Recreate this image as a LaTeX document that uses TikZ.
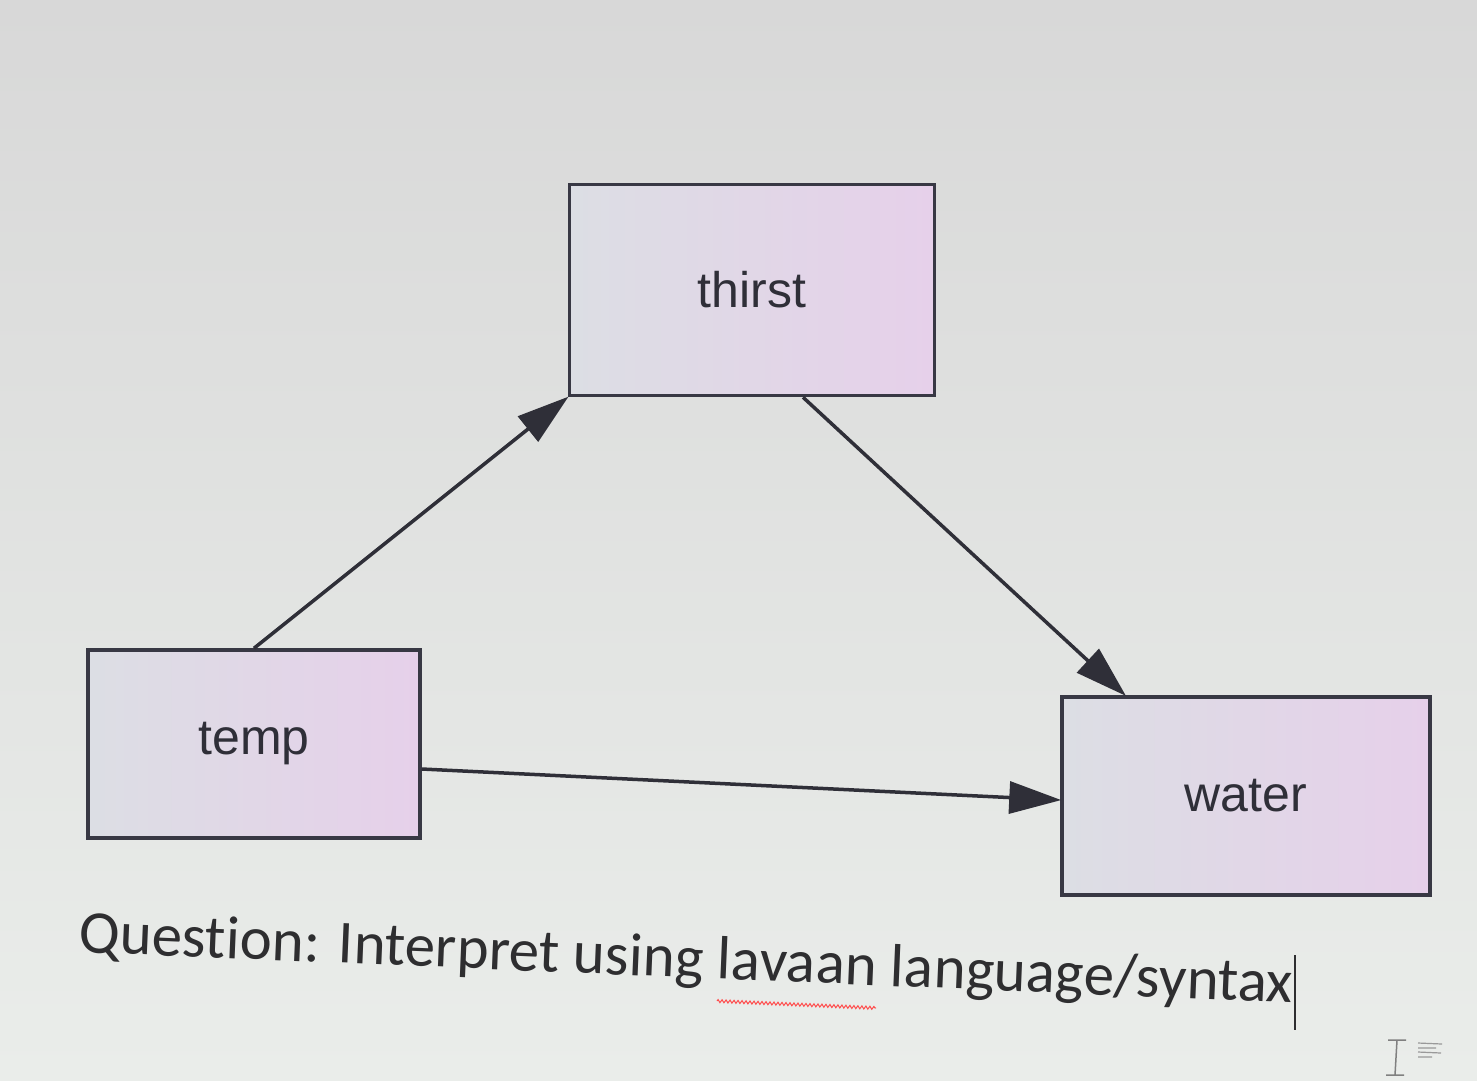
\documentclass[tikz,border=0pt]{standalone}
\usepackage{fontspec}
\setmainfont{Liberation Sans}
\newfontfamily\captionfam[Ligatures=NoCommon]{Carlito}
\usetikzlibrary{arrows.meta,decorations.pathmorphing}
\definecolor{bgtop}{HTML}{D8D8D8}
\definecolor{bgmid}{HTML}{F0F0F0}
\definecolor{bgbot}{HTML}{EAEDEA}
\definecolor{boxl}{HTML}{DCDEE4}
\definecolor{boxr}{HTML}{E6D0EA}
\definecolor{edge}{HTML}{383844}
\definecolor{inkc}{HTML}{2F2F38}
\definecolor{captc}{HTML}{2E2E30}
\tikzset{
  varbox/.style={draw=edge, line width=3.5pt, left color=boxl, right color=boxr,
    font=\fontsize{50}{56}\selectfont, text=inkc, inner sep=0pt},
  arr/.style={draw=inkc, line width=3.5pt, -{Triangle[length=52pt,width=32pt]}, shorten >=-1pt},
}
\begin{document}
\begin{tikzpicture}[x=1pt,y=-1pt]
\useasboundingbox (0,0) rectangle (1477,1080);
\shade[top color=bgtop, middle color=bgmid, bottom color=bgbot] (0,0) rectangle (1477,1080);

\node[varbox, minimum width=365pt, minimum height=211pt] (thirst) at (752,290) {thirst};
\node[varbox, minimum width=332pt, minimum height=188pt] (temp) at (254,744) {temp};
\node[varbox, minimum width=368pt, minimum height=198pt] (water) at (1246,796) {water};

\draw[arr] (temp.north) -- (thirst.south west);
\draw[arr] ([xshift=51pt]thirst.south) -- ([xshift=65pt]water.north west);
\draw[arr] ([yshift=-25pt]temp.east) -- ([yshift=-4pt]water.west);

\node[anchor=base west, rotate=-2.4, inner sep=0pt, text=captc,
  font=\captionfam\fontsize{61}{64}\selectfont] (q) at (78,952)
  {Question: Interpret using lavaan language/syntax};
\draw[red!70, line width=1pt, decorate, decoration={zigzag, amplitude=1.5pt, segment length=4pt}]
  (717,1001) -- (876,1008);
\draw[line width=1.5pt, captc] (1295,955) -- (1295,1030);

% I-beam pointer
\draw[line width=1.5pt, gray] (1397,1040) -- (1395,1075)
  (1388,1040) -- (1406,1040) (1386,1075) -- (1404,1075);
\draw[line width=1.2pt, gray!80] (1418,1043) -- (1442,1044) (1418,1048) -- (1436,1048)
  (1418,1052) -- (1441,1053) (1418,1057) -- (1432,1057);
\end{tikzpicture}
\end{document}
